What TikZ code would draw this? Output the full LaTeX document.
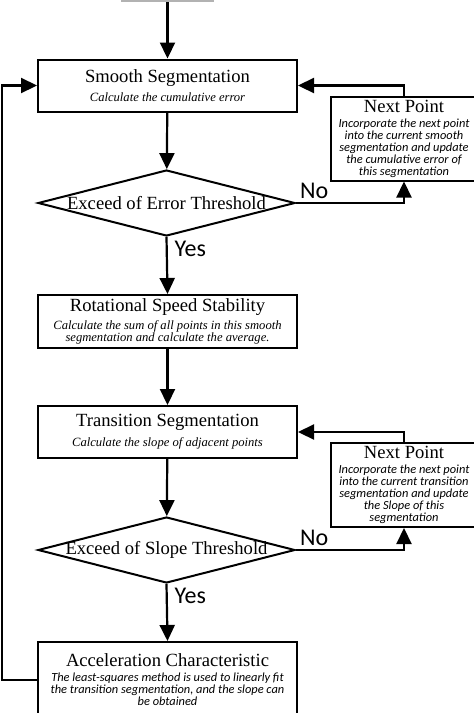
\documentclass[tikz,border=0pt]{standalone}
\usepackage{fontspec}
\setmainfont{Liberation Serif}
\newfontfamily\calfont{Carlito}
\usepackage{tikz}
\usetikzlibrary{positioning}
\usetikzlibrary{shapes.geometric}
\usetikzlibrary{arrows.meta}
\newcommand{\flowhead}{\fontsize{9.3pt}{9.6pt}\selectfont\upshape\rmfamily}
\newcommand{\flowsub}{\fontsize{6.3pt}{6.2pt}\selectfont\itshape}
\newcommand{\flownote}{\calfont\fontsize{6.2pt}{6pt}\selectfont\itshape}
\newcommand{\flowyn}{\calfont\fontsize{12pt}{12pt}\selectfont}

\begin{document}
\begin{tikzpicture}[x=0.5pt,y=-0.5pt,>={Triangle[length=8pt,width=7.5pt]}]
\tikzset{basic/.style={draw,line width=1pt,fill=white,align=center,inner sep=1pt}}
\tikzset{stage/.style={basic,rectangle,font=\flowsub,minimum width=129.5pt,minimum height=26pt}}
\tikzset{decision/.style={basic,diamond,font=\flowhead,minimum width=128.5pt,minimum height=33pt,inner sep=0pt}}
\tikzset{update/.style={basic,rectangle,font=\flownote,minimum width=73pt,minimum height=42pt}}
\tikzset{answer/.style={font=\flowyn,inner sep=1.5pt}}
\tikzset{conn/.style={draw,line width=1.1pt,->}}
\clip (0,0) rectangle (474,713);
        \node[basic,draw=gray!60,minimum width=45.5pt,minimum height=20pt] (prev) at (167.5,-19) {};
        \node[stage] (smooth) at (167.5,85.5) {{\flowhead Smooth Segmentation}\\[2.5pt] Calculate the cumulative error};
            \path[conn] (prev) -- (smooth);
        \node[decision] (err) at (166.5,203) {\makebox[0pt]{Exceed of Error Threshold}};
            \path[conn] (smooth) -- (err);
        \node[update] (next1) at (404,138.5) {{\flowhead Next Point}\\[1.5pt] Incorporate the next point\\ into the current smooth\\ segmentation and update\\ the cumulative error of\\ this segmentation};
            \path[conn] (err.east) -| node[answer,anchor=south west,pos=0] {No} (next1.south);
            \path[conn] (next1.north) |- (smooth.east);
        \node[stage,minimum height=26.5pt] (rot) at (167.5,321.5) {{\flowhead Rotational Speed Stability}\\[1.5pt] Calculate the sum of all points in this smooth\\ segmentation and calculate the average.};
            \path[conn] (err.south) -- node[answer,anchor=north west,pos=0,xshift=2pt] {Yes} (rot.north);
        \node[stage] (trans) at (167.5,432) {{\flowhead Transition Segmentation}\\[2.5pt] Calculate the slope of adjacent points};
            \path[conn] (rot) -- (trans);
        \node[decision] (slope) at (166.5,550) {\makebox[0pt]{Exceed of Slope Threshold}};
            \path[conn] (trans) -- (slope);
        \node[update] (next2) at (404,485) {{\flowhead Next Point}\\[1.5pt] Incorporate the next point\\ into the current transition\\ segmentation and update\\ the Slope of this\\ segmentation};
            \path[conn] (slope.east) -| node[answer,anchor=south west,pos=0] {No} (next2.south);
            \path[conn] (next2.north) |- (trans.east);
        \node[stage,font=\flownote,minimum height=38pt] (accel) at (167.5,680) {{\flowhead Acceleration Characteristic}\\[1.5pt] The least-squares method is used to linearly fit\\ the transition segmentation, and the slope can\\ be obtained};
            \path[conn] (slope.south) -- node[answer,anchor=north west,pos=0,xshift=2pt] {Yes} (accel.north);
        \coordinate (loop) at (2,680);
            \path[conn] (accel.west) -- (loop) |- (smooth.west);
    \end{tikzpicture}
\end{document}
